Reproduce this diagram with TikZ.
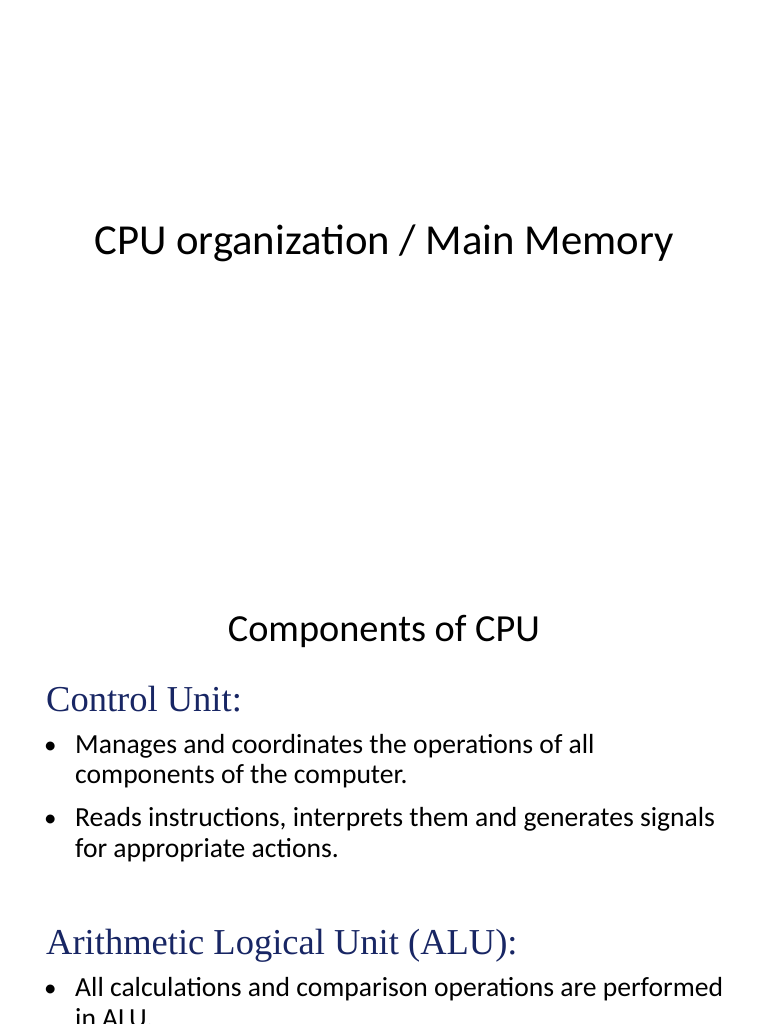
\documentclass[tikz,border=0pt]{standalone}
\usepackage{fontspec}
\setmainfont{Carlito}
\newfontfamily\hdfont{Liberation Serif}
\definecolor{hdblue}{RGB}{24,38,100}
\begin{document}
\begin{tikzpicture}[x=1pt,y=-1pt,
  body/.style={anchor=base west,inner sep=0pt,font=\fontsize{27.6}{32}\selectfont},
  head/.style={anchor=base west,inner sep=0pt,text=hdblue,font=\hdfont\fontsize{36.5}{42}\selectfont},
  bul/.style={anchor=base west,inner sep=0pt,font=\fontsize{25}{30}\selectfont}]
\useasboundingbox (0,0) rectangle (768,1024);
\clip (0,0) rectangle (768,1024);
\fill[white] (0,0) rectangle (768,1024);
\node[inner sep=0pt,font=\fontsize{42.7}{50}\selectfont] (title) at (384,243) {CPU organization / Main Memory};
\node[inner sep=0pt,font=\fontsize{38.3}{44}\selectfont] (comp) at (384,631) {Components of CPU};
\node[head] (cu) at (46,711) {Control Unit:};
\node[bul] (b1) at (44,753) {•};
\node[body] (t1) at (75,753) {Manages and coordinates the operations of all};
\node[body] (t1b) at (75,783) {components of the computer.};
\node[bul] (b2) at (44,826) {•};
\node[body] (t2) at (75,826) {Reads instructions, interprets them and generates signals};
\node[body] (t2b) at (75,857) {for appropriate actions.};
\node[head] (alu) at (46,954) {Arithmetic Logical Unit (ALU):};
\node[bul] (b3) at (44,996) {•};
\node[body] (t3) at (75,996) {All calculations and comparison operations are performed};
\node[body] (t3b) at (75,1027) {in ALU.};
\end{tikzpicture}
\end{document}
